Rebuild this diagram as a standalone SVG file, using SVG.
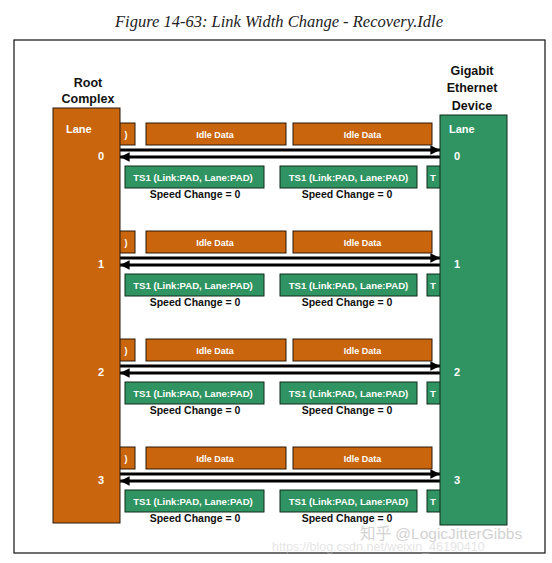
<svg xmlns="http://www.w3.org/2000/svg" width="552" height="563" viewBox="0 0 552 563">
<defs>
<style>
.title{font-family:"Liberation Serif",serif;font-style:italic;font-size:16.5px;fill:#222}
.hdr{font-family:"Liberation Sans",Arial,sans-serif;font-weight:bold;font-size:12.5px;fill:#111;text-anchor:middle}
.lane{font-family:"Liberation Sans",Arial,sans-serif;font-weight:bold;font-size:11px;fill:#fff}
.box{font-family:"Liberation Sans",Arial,sans-serif;font-weight:bold;font-size:9px;fill:#fff;text-anchor:middle}
.ts{font-size:9.6px}
.spd{font-family:"Liberation Sans",Arial,sans-serif;font-weight:bold;font-size:10.5px;fill:#111;text-anchor:middle}
.or{fill:#C9650C;stroke:#2a1a0a;stroke-width:1}
.gr{fill:#2F9462;stroke:#102a1a;stroke-width:1}
.ln{stroke:#000;stroke-width:3;fill:none}
.wm{font-family:"Liberation Sans","Noto Sans CJK SC",sans-serif;fill:#c8c8c8}
</style>
<marker id="ah" viewBox="0 0 10 10" refX="10" refY="5" markerWidth="3.2" markerHeight="3.2" markerUnits="strokeWidth" orient="auto">
<path d="M0,0 L10,5 L0,10 z" fill="#000"/>
</marker>
<g id="lanerow">
<rect class="or" x="108" y="123" width="27" height="22"/>
<text class="box" x="126" y="137.5">)</text>
<rect class="or" x="146" y="123" width="140" height="22"/>
<text class="box" x="215" y="137.5">Idle Data</text>
<rect class="or" x="293" y="123" width="139" height="22"/>
<text class="box" x="362.5" y="137.5">Idle Data</text>
<rect class="gr" x="125" y="166" width="139" height="22"/>
<text class="box ts" x="193" y="180.5">TS1 (Link:PAD, Lane:PAD)</text>
<rect class="gr" x="280" y="166" width="137" height="22"/>
<text class="box ts" x="348.5" y="180.5">TS1 (Link:PAD, Lane:PAD)</text>
<rect class="gr" x="427" y="166" width="20" height="22"/>
<text class="box ts" x="433" y="180.5">T</text>
<text class="spd" x="195" y="198">Speed Change = 0</text>
<text class="spd" x="347" y="198">Speed Change = 0</text>
</g>
<g id="arrows">
<line class="ln" x1="120" y1="150" x2="440" y2="150" marker-end="url(#ah)"/>
<line class="ln" x1="440" y1="157" x2="120" y2="157" marker-end="url(#ah)"/>
</g>
</defs>

<text class="title" x="279" y="27" text-anchor="middle">Figure 14-63: Link Width Change - Recovery.Idle</text>
<rect x="14" y="40" width="531" height="513" fill="none" stroke="#111" stroke-width="1.2"/>

<g id="lane0-boxes"><use href="#lanerow"/></g>
<g id="lane1-boxes"><use href="#lanerow" y="108"/></g>
<g id="lane2-boxes"><use href="#lanerow" y="216"/></g>
<g id="lane3-boxes"><use href="#lanerow" y="324"/></g>

<g id="connectors">
<use href="#arrows"/>
<use href="#arrows" y="108"/>
<use href="#arrows" y="216"/>
<use href="#arrows" y="324"/>
</g>

<g id="root-complex">
<text class="hdr" x="88" y="87">Root</text>
<text class="hdr" x="88" y="103">Complex</text>
<rect class="or" x="53" y="108" width="67" height="415"/>
<text class="lane" x="66" y="133">Lane</text>
<text class="lane" x="101" y="160" text-anchor="middle">0</text>
<text class="lane" x="101" y="268" text-anchor="middle">1</text>
<text class="lane" x="101" y="376" text-anchor="middle">2</text>
<text class="lane" x="101" y="484" text-anchor="middle">3</text>
</g>

<g id="gigabit-device">
<text class="hdr" x="472" y="75">Gigabit</text>
<text class="hdr" x="472" y="92">Ethernet</text>
<text class="hdr" x="472" y="110">Device</text>
<rect class="gr" x="440" y="115" width="67" height="410"/>
<text class="lane" x="449" y="133">Lane</text>
<text class="lane" x="457" y="160" text-anchor="middle">0</text>
<text class="lane" x="457" y="268" text-anchor="middle">1</text>
<text class="lane" x="457" y="376" text-anchor="middle">2</text>
<text class="lane" x="457" y="484" text-anchor="middle">3</text>
</g>

<g id="watermark" opacity="0.8">
<text class="wm" x="360" y="539" font-size="15.5">知乎 @LogicJitterGibbs</text>
<text class="wm" x="272" y="551" font-size="12.5" fill-opacity="0.6">https://blog.csdn.net/weixin_46190410</text>
</g>
</svg>
